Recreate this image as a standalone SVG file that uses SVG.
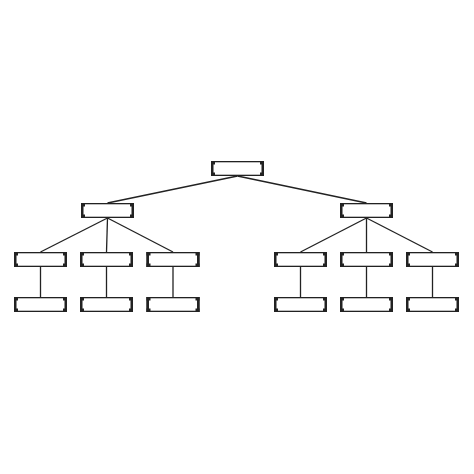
<svg xmlns="http://www.w3.org/2000/svg" xmlns:xlink="http://www.w3.org/1999/xlink" width="474" height="474" viewBox="0 0 474 474">
<style>
.bg{fill:#ffffff}
.frame{fill:#ffffff;stroke:#222222;stroke-width:1.3}
.cap{fill:#222222}
.edge{stroke:#222222;stroke-width:1.3;fill:none}
</style>
<defs>
<symbol id="box" viewBox="0 0 53 15" width="53" height="15" overflow="visible">
<rect class="frame" x="0.65" y="0.65" width="51.7" height="13.7"/>
<rect class="cap" x="0" y="0" width="2.5" height="15"/>
<rect class="cap" x="50.5" y="0" width="2.5" height="15"/>
<rect class="cap" x="0" y="0" width="4" height="3.5"/>
<rect class="cap" x="0" y="11.5" width="4" height="3.5"/>
<rect class="cap" x="49" y="0" width="4" height="3.5"/>
<rect class="cap" x="49" y="11.5" width="4" height="3.5"/>
</symbol>
</defs>
<rect class="bg" x="0" y="0" width="474" height="474"/>
<g id="connectors">
<line class="edge" x1="237.5" y1="176" x2="107.5" y2="203"/>
<line class="edge" x1="237.5" y1="176" x2="366.5" y2="203"/>
<line class="edge" x1="107.5" y1="218" x2="40.5" y2="252"/>
<line class="edge" x1="107.5" y1="218" x2="106.5" y2="252"/>
<line class="edge" x1="107.5" y1="218" x2="173" y2="252"/>
<line class="edge" x1="366.5" y1="218" x2="300.5" y2="252"/>
<line class="edge" x1="366.5" y1="218" x2="366.5" y2="252"/>
<line class="edge" x1="366.5" y1="218" x2="432.5" y2="252"/>
<line class="edge" x1="40.5" y1="267" x2="40.5" y2="297"/>
<line class="edge" x1="106.5" y1="267" x2="106.5" y2="297"/>
<line class="edge" x1="173" y1="267" x2="173" y2="297"/>
<line class="edge" x1="300.5" y1="267" x2="300.5" y2="297"/>
<line class="edge" x1="366.5" y1="267" x2="366.5" y2="297"/>
<line class="edge" x1="432.5" y1="267" x2="432.5" y2="297"/>
</g>
<g id="root"><use xlink:href="#box" x="211" y="161"/></g>
<g id="n-left"><use xlink:href="#box" x="81" y="203"/></g>
<g id="n-right"><use xlink:href="#box" x="340" y="203"/></g>
<g id="n-l1"><use xlink:href="#box" x="14" y="252"/></g>
<g id="n-l2"><use xlink:href="#box" x="80" y="252"/></g>
<g id="n-l3"><use xlink:href="#box" x="146.5" y="252"/></g>
<g id="n-r1"><use xlink:href="#box" x="274" y="252"/></g>
<g id="n-r2"><use xlink:href="#box" x="340" y="252"/></g>
<g id="n-r3"><use xlink:href="#box" x="406" y="252"/></g>
<g id="n-l1c"><use xlink:href="#box" x="14" y="297"/></g>
<g id="n-l2c"><use xlink:href="#box" x="80" y="297"/></g>
<g id="n-l3c"><use xlink:href="#box" x="146.5" y="297"/></g>
<g id="n-r1c"><use xlink:href="#box" x="274" y="297"/></g>
<g id="n-r2c"><use xlink:href="#box" x="340" y="297"/></g>
<g id="n-r3c"><use xlink:href="#box" x="406" y="297"/></g>
</svg>
